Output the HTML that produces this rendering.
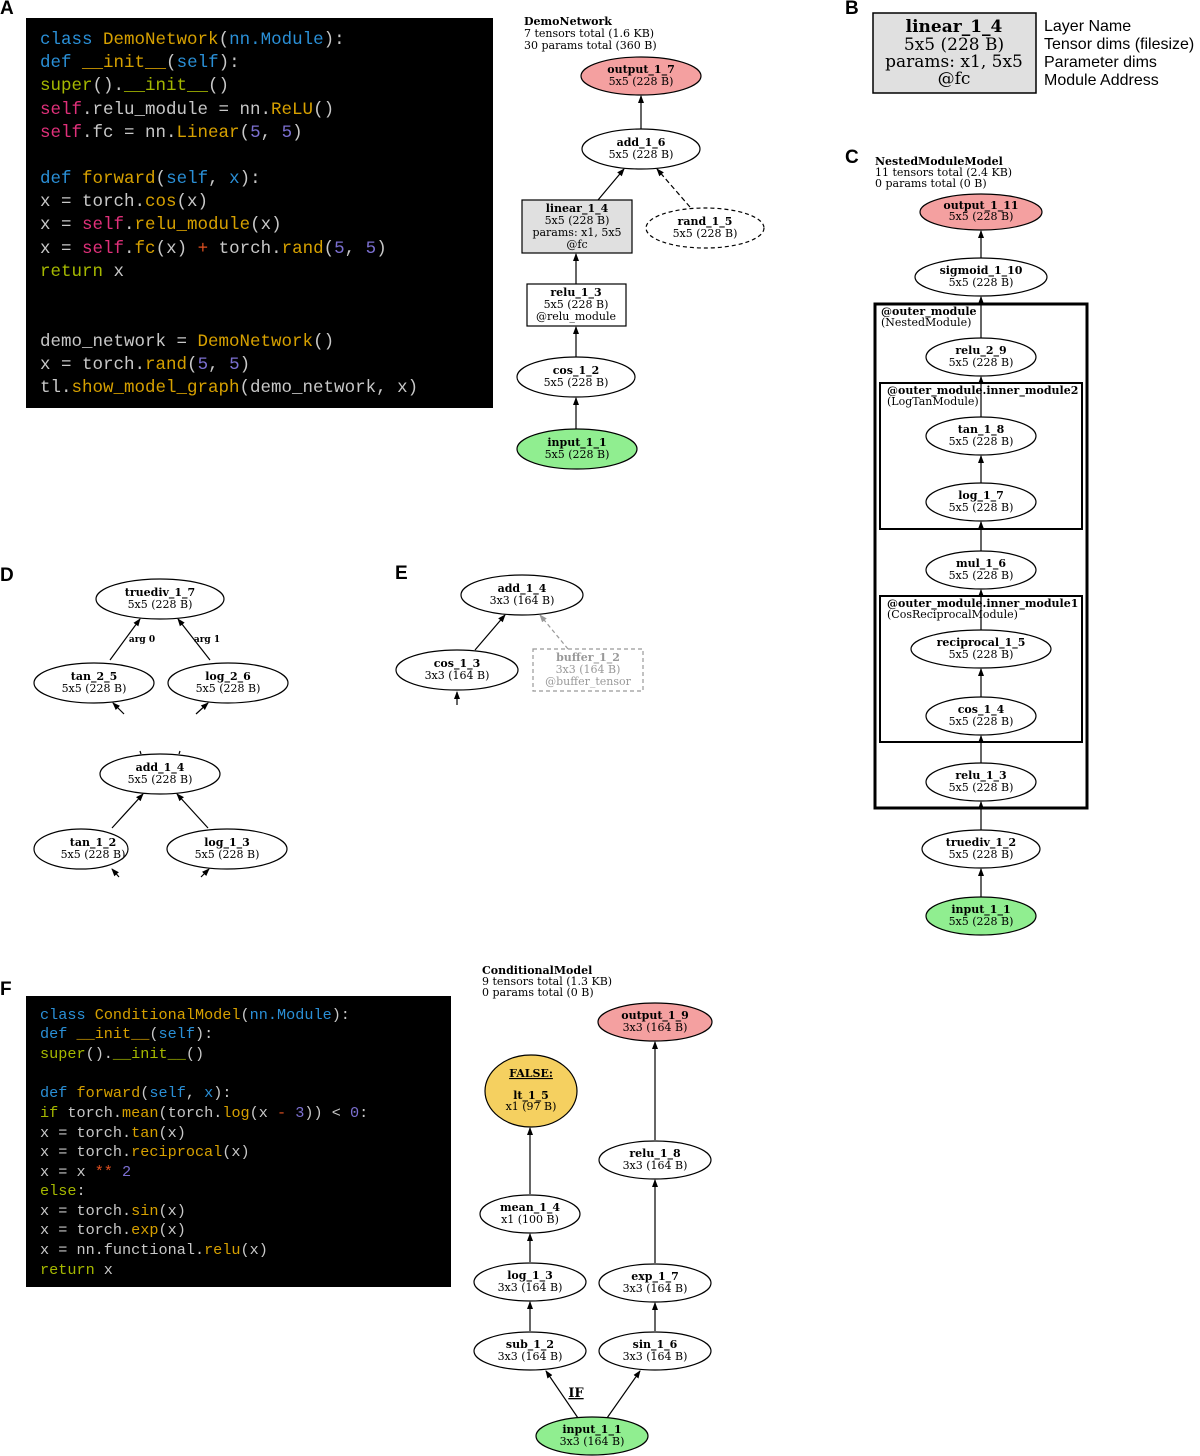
<!DOCTYPE html>
<html><head><meta charset="utf-8"><style>
html,body{margin:0;padding:0;background:#fff;}
svg{display:block}
.m{font-family:"Liberation Mono","DejaVu Sans Mono",monospace;}
.s{font-family:"DejaVu Serif","Liberation Serif",serif;font-size:11px;}
.b{font-weight:bold;}
.L{font-family:"Liberation Sans",sans-serif;font-weight:bold;font-size:19px;}
.bl{fill:#2a8fd6}.go{fill:#d6a000}.gr{fill:#a5b800}.pk{fill:#e0307a}.gy{fill:#c8c8c8}.pu{fill:#7b6fd0}.rd{fill:#e05020}
</style></head><body>
<svg width="1200" height="1456" viewBox="0 0 1200 1456" xmlns="http://www.w3.org/2000/svg">
<defs>
<marker id="ar" markerWidth="8" markerHeight="8" refX="7" refY="4" orient="auto" markerUnits="userSpaceOnUse"><path d="M0,1 L8,4 L0,7z" fill="#000"/></marker>
<marker id="ag" markerWidth="8" markerHeight="8" refX="7" refY="4" orient="auto" markerUnits="userSpaceOnUse"><path d="M0,1 L8,4 L0,7z" fill="#999"/></marker>
</defs>
<text class="L" x="0" y="14">A</text>
<text class="L" x="845" y="14">B</text>
<text class="L" x="845" y="163">C</text>
<text class="L" x="0" y="581">D</text>
<text class="L" x="395" y="579">E</text>
<text class="L" x="0" y="995">F</text>

<!-- Code A -->
<rect x="26" y="18" width="467" height="390" fill="#000"/>
<g class="m" font-size="17.5" fill="#c8c8c8" xml:space="preserve">
<text x="40" y="44"><tspan class="bl">class</tspan> <tspan class="go">DemoNetwork</tspan>(<tspan class="bl">nn.Module</tspan>):</text>
<text x="40" y="67">    <tspan class="bl">def</tspan> <tspan class="go">__init__</tspan>(<tspan class="bl">self</tspan>):</text>
<text x="40" y="90">        <tspan class="gr">super</tspan>().<tspan class="gr">__init__</tspan>()</text>
<text x="40" y="114">        <tspan class="pk">self</tspan>.relu_module = nn.<tspan class="go">ReLU</tspan>()</text>
<text x="40" y="137">        <tspan class="pk">self</tspan>.fc = nn.<tspan class="go">Linear</tspan>(<tspan class="pu">5</tspan>, <tspan class="pu">5</tspan>)</text>
<text x="40" y="183">    <tspan class="bl">def</tspan> <tspan class="go">forward</tspan>(<tspan class="bl">self</tspan>, <tspan class="bl">x</tspan>):</text>
<text x="40" y="206">        x = torch.<tspan class="go">cos</tspan>(x)</text>
<text x="40" y="229">        x = <tspan class="pk">self</tspan>.<tspan class="go">relu_module</tspan>(x)</text>
<text x="40" y="253">        x = <tspan class="pk">self</tspan>.<tspan class="go">fc</tspan>(x) <tspan class="rd">+</tspan> torch.<tspan class="go">rand</tspan>(<tspan class="pu">5</tspan>, <tspan class="pu">5</tspan>)</text>
<text x="40" y="276">        <tspan class="gr">return</tspan> x</text>
<text x="40" y="346">demo_network = <tspan class="go">DemoNetwork</tspan>()</text>
<text x="40" y="369">x = torch.<tspan class="go">rand</tspan>(<tspan class="pu">5</tspan>, <tspan class="pu">5</tspan>)</text>
<text x="40" y="392">tl.<tspan class="go">show_model_graph</tspan>(demo_network, x)</text>
</g>

<!-- Code F -->
<rect x="26" y="996" width="425" height="291" fill="#000"/>
<g class="m" font-size="15.2" fill="#c8c8c8" xml:space="preserve">
<text x="40" y="1019"><tspan class="bl">class</tspan> <tspan class="go">ConditionalModel</tspan>(<tspan class="bl">nn.Module</tspan>):</text>
<text x="40" y="1038">    <tspan class="bl">def</tspan> <tspan class="go">__init__</tspan>(<tspan class="bl">self</tspan>):</text>
<text x="40" y="1058">        <tspan class="gr">super</tspan>().<tspan class="gr">__init__</tspan>()</text>
<text x="40" y="1097">    <tspan class="bl">def</tspan> <tspan class="go">forward</tspan>(<tspan class="bl">self</tspan>, <tspan class="bl">x</tspan>):</text>
<text x="40" y="1117">        <tspan class="gr">if</tspan> torch.<tspan class="go">mean</tspan>(torch.<tspan class="go">log</tspan>(x <tspan class="rd">-</tspan> <tspan class="pu">3</tspan>)) &lt; <tspan class="pu">0</tspan>:</text>
<text x="40" y="1137">            x = torch.<tspan class="go">tan</tspan>(x)</text>
<text x="40" y="1156">            x = torch.<tspan class="go">reciprocal</tspan>(x)</text>
<text x="40" y="1176">            x = x <tspan class="rd">**</tspan> <tspan class="pu">2</tspan></text>
<text x="40" y="1195">        <tspan class="gr">else</tspan>:</text>
<text x="40" y="1215">            x = torch.<tspan class="go">sin</tspan>(x)</text>
<text x="40" y="1234">            x = torch.<tspan class="go">exp</tspan>(x)</text>
<text x="40" y="1254">            x = nn.functional.<tspan class="go">relu</tspan>(x)</text>
<text x="40" y="1274">        <tspan class="gr">return</tspan> x</text>
</g>

<g class="s" text-anchor="middle" stroke-width="1.2">
<!-- Panel A graph -->
<text class="b" x="524" y="25" text-anchor="start">DemoNetwork</text>
<text x="524" y="37" text-anchor="start">7 tensors total (1.6 KB)</text>
<text x="524" y="49" text-anchor="start">30 params total (360 B)</text>
<ellipse cx="641" cy="76" rx="60" ry="19" fill="#f4a0a0" stroke="#000"/>
<text class="b" x="641" y="73">output_1_7</text><text x="641" y="85">5x5 (228 B)</text>
<ellipse cx="641" cy="149" rx="59" ry="20" fill="#fff" stroke="#000"/>
<text class="b" x="641" y="146">add_1_6</text><text x="641" y="158">5x5 (228 B)</text>
<rect x="522" y="200" width="110" height="53" fill="#e0e0e0" stroke="#000"/>
<text class="b" x="577" y="212">linear_1_4</text><text x="577" y="224">5x5 (228 B)</text><text x="577" y="236">params: x1, 5x5</text><text x="577" y="248">@fc</text>
<ellipse cx="705" cy="228" rx="59" ry="20" fill="#fff" stroke="#000" stroke-dasharray="4,3"/>
<text class="b" x="705" y="225">rand_1_5</text><text x="705" y="237">5x5 (228 B)</text>
<rect x="527" y="284" width="99" height="42" fill="#fff" stroke="#000"/>
<text class="b" x="576" y="296">relu_1_3</text><text x="576" y="308">5x5 (228 B)</text><text x="576" y="320">@relu_module</text>
<ellipse cx="576" cy="377" rx="59" ry="20" fill="#fff" stroke="#000"/>
<text class="b" x="576" y="374">cos_1_2</text><text x="576" y="386">5x5 (228 B)</text>
<ellipse cx="577" cy="449" rx="60" ry="20" fill="#90ee90" stroke="#000"/>
<text class="b" x="577" y="446">input_1_1</text><text x="577" y="458">5x5 (228 B)</text>
<g stroke="#000" fill="none" marker-end="url(#ar)">
<line x1="576" y1="429" x2="576" y2="398"/>
<line x1="576" y1="357" x2="576" y2="327"/>
<line x1="576" y1="284" x2="576" y2="254"/>
<line x1="598" y1="200" x2="624" y2="169"/>
<line x1="690" y1="207" x2="657" y2="169" stroke-dasharray="5,3"/>
<line x1="641" y1="129" x2="641" y2="96"/>
</g>

<!-- Panel C -->
<text class="b" x="875" y="165" text-anchor="start">NestedModuleModel</text>
<text x="875" y="176" text-anchor="start">11 tensors total (2.4 KB)</text>
<text x="875" y="187" text-anchor="start">0 params total (0 B)</text>
<rect x="875" y="304" width="212" height="504" fill="none" stroke="#000" stroke-width="3"/>
<rect x="880" y="383" width="202" height="146" fill="none" stroke="#000" stroke-width="2"/>
<rect x="880" y="596" width="202" height="146" fill="none" stroke="#000" stroke-width="2"/>
<text class="b" x="881" y="315" text-anchor="start">@outer_module</text><text x="881" y="326" text-anchor="start">(NestedModule)</text>
<text class="b" x="887" y="394" text-anchor="start">@outer_module.inner_module2</text><text x="887" y="405" text-anchor="start">(LogTanModule)</text>
<text class="b" x="887" y="607" text-anchor="start">@outer_module.inner_module1</text><text x="887" y="618" text-anchor="start">(CosReciprocalModule)</text>
<g stroke="#000" fill="none" marker-end="url(#ar)">
<line x1="981" y1="897" x2="981" y2="869"/>
<line x1="981" y1="830" x2="981" y2="802"/>
<line x1="981" y1="763" x2="981" y2="736"/>
<line x1="981" y1="697" x2="981" y2="669"/>
<line x1="981" y1="630" x2="981" y2="590"/>
<line x1="981" y1="551" x2="981" y2="522"/>
<line x1="981" y1="483" x2="981" y2="456"/>
<line x1="981" y1="417" x2="981" y2="377"/>
<line x1="981" y1="338" x2="981" y2="297"/>
<line x1="981" y1="258" x2="981" y2="231"/>
</g>
<ellipse cx="981" cy="212" rx="61" ry="18" fill="#f4a0a0" stroke="#000"/>
<text class="b" x="981" y="209">output_1_11</text><text x="981" y="220">5x5 (228 B)</text>
<ellipse cx="981" cy="277" rx="66" ry="19" fill="#fff" stroke="#000"/>
<text class="b" x="981" y="274">sigmoid_1_10</text><text x="981" y="286">5x5 (228 B)</text>
<ellipse cx="981" cy="357" rx="55" ry="19" fill="#fff" stroke="#000"/>
<text class="b" x="981" y="354">relu_2_9</text><text x="981" y="366">5x5 (228 B)</text>
<ellipse cx="981" cy="436" rx="55" ry="19" fill="#fff" stroke="#000"/>
<text class="b" x="981" y="433">tan_1_8</text><text x="981" y="445">5x5 (228 B)</text>
<ellipse cx="981" cy="502" rx="55" ry="19" fill="#fff" stroke="#000"/>
<text class="b" x="981" y="499">log_1_7</text><text x="981" y="511">5x5 (228 B)</text>
<ellipse cx="981" cy="570" rx="55" ry="19" fill="#fff" stroke="#000"/>
<text class="b" x="981" y="567">mul_1_6</text><text x="981" y="579">5x5 (228 B)</text>
<ellipse cx="981" cy="649" rx="70" ry="19" fill="#fff" stroke="#000"/>
<text class="b" x="981" y="646">reciprocal_1_5</text><text x="981" y="658">5x5 (228 B)</text>
<ellipse cx="981" cy="716" rx="55" ry="19" fill="#fff" stroke="#000"/>
<text class="b" x="981" y="713">cos_1_4</text><text x="981" y="725">5x5 (228 B)</text>
<ellipse cx="981" cy="782" rx="55" ry="19" fill="#fff" stroke="#000"/>
<text class="b" x="981" y="779">relu_1_3</text><text x="981" y="791">5x5 (228 B)</text>
<ellipse cx="981" cy="849" rx="59" ry="19" fill="#fff" stroke="#000"/>
<text class="b" x="981" y="846">truediv_1_2</text><text x="981" y="858">5x5 (228 B)</text>
<ellipse cx="981" cy="916" rx="55" ry="19" fill="#90ee90" stroke="#000"/>
<text class="b" x="981" y="913">input_1_1</text><text x="981" y="925">5x5 (228 B)</text>

<!-- Panel D -->
<ellipse cx="160" cy="599" rx="64" ry="20" fill="#fff" stroke="#000"/>
<text class="b" x="160" y="596">truediv_1_7</text><text x="160" y="608">5x5 (228 B)</text>
<ellipse cx="94" cy="683" rx="60" ry="20" fill="#fff" stroke="#000"/>
<text class="b" x="94" y="680">tan_2_5</text><text x="94" y="692">5x5 (228 B)</text>
<ellipse cx="228" cy="683" rx="60" ry="20" fill="#fff" stroke="#000"/>
<text class="b" x="228" y="680">log_2_6</text><text x="228" y="692">5x5 (228 B)</text>
<text class="b" x="142" y="642" font-size="9">arg 0</text>
<text class="b" x="207" y="642" font-size="9">arg 1</text>
<ellipse cx="160" cy="774" rx="60" ry="20" fill="#fff" stroke="#000"/>
<text class="b" x="160" y="771">add_1_4</text><text x="160" y="783">5x5 (228 B)</text>
<ellipse cx="81" cy="849" rx="47" ry="20" fill="#fff" stroke="#000"/>
<text class="b" x="93" y="846">tan_1_2</text><text x="93" y="858">5x5 (228 B)</text>
<ellipse cx="227" cy="849" rx="60" ry="20" fill="#fff" stroke="#000"/>
<text class="b" x="227" y="846">log_1_3</text><text x="227" y="858">5x5 (228 B)</text>
<g stroke="#000" fill="none" marker-end="url(#ar)">
<line x1="110" y1="660" x2="140" y2="619"/>
<line x1="210" y1="660" x2="178" y2="619"/>
<line x1="124" y1="714" x2="113" y2="703"/>
<line x1="196" y1="714" x2="208" y2="703"/>
<line x1="112" y1="828" x2="143" y2="794"/>
<line x1="208" y1="828" x2="177" y2="794"/>
<line x1="119" y1="877" x2="112" y2="869"/>
<line x1="201" y1="877" x2="209" y2="869"/>
</g>
<line x1="140" y1="751" x2="141" y2="754" stroke="#000"/><line x1="180" y1="751" x2="179" y2="754" stroke="#000"/>

<!-- Panel E -->
<ellipse cx="522" cy="595" rx="61" ry="20" fill="#fff" stroke="#000"/>
<text class="b" x="522" y="592">add_1_4</text><text x="522" y="604">3x3 (164 B)</text>
<ellipse cx="457" cy="670" rx="61" ry="20" fill="#fff" stroke="#000"/>
<text class="b" x="457" y="667">cos_1_3</text><text x="457" y="679">3x3 (164 B)</text>
<rect x="533" y="649" width="110" height="42" fill="#fff" stroke="#999" stroke-dasharray="4,3"/>
<text class="b" x="588" y="661" fill="#999">buffer_1_2</text><text x="588" y="673" fill="#999">3x3 (164 B)</text><text x="588" y="685" fill="#999">@buffer_tensor</text>
<line x1="475" y1="650" x2="505" y2="615" stroke="#000" marker-end="url(#ar)"/>
<line x1="568" y1="649" x2="540" y2="615" stroke="#999" stroke-dasharray="4,3" marker-end="url(#ag)"/>
<line x1="457" y1="705" x2="457" y2="692" stroke="#000" marker-end="url(#ar)"/>

<!-- Panel F graph -->
<text class="b" x="482" y="974" text-anchor="start">ConditionalModel</text>
<text x="482" y="985" text-anchor="start">9 tensors total (1.3 KB)</text>
<text x="482" y="996" text-anchor="start">0 params total (0 B)</text>
<g stroke="#000" fill="none" marker-end="url(#ar)">
<line x1="530" y1="1194" x2="530" y2="1128"/>
<line x1="530" y1="1262" x2="530" y2="1234"/>
<line x1="530" y1="1331" x2="530" y2="1302"/>
<line x1="655" y1="1140" x2="655" y2="1042"/>
<line x1="655" y1="1263" x2="655" y2="1180"/>
<line x1="655" y1="1331" x2="655" y2="1303"/>
<line x1="578" y1="1418" x2="546" y2="1371"/>
<line x1="607" y1="1418" x2="640" y2="1371"/>
</g>
<ellipse cx="655" cy="1022" rx="57" ry="19" fill="#f4a0a0" stroke="#000"/>
<text class="b" x="655" y="1019">output_1_9</text><text x="655" y="1031">3x3 (164 B)</text>
<ellipse cx="531" cy="1091" rx="46" ry="36" fill="#f5d060" stroke="#000"/>
<text class="b" x="531" y="1077" text-decoration="underline">FALSE:</text>
<text class="b" x="531" y="1099">lt_1_5</text><text x="531" y="1110">x1 (97 B)</text>
<ellipse cx="530" cy="1214" rx="50" ry="19" fill="#fff" stroke="#000"/>
<text class="b" x="530" y="1211">mean_1_4</text><text x="530" y="1223">x1 (100 B)</text>
<ellipse cx="530" cy="1282" rx="56" ry="19" fill="#fff" stroke="#000"/>
<text class="b" x="530" y="1279">log_1_3</text><text x="530" y="1291">3x3 (164 B)</text>
<ellipse cx="530" cy="1351" rx="56" ry="19" fill="#fff" stroke="#000"/>
<text class="b" x="530" y="1348">sub_1_2</text><text x="530" y="1360">3x3 (164 B)</text>
<ellipse cx="655" cy="1160" rx="56" ry="19" fill="#fff" stroke="#000"/>
<text class="b" x="655" y="1157">relu_1_8</text><text x="655" y="1169">3x3 (164 B)</text>
<ellipse cx="655" cy="1283" rx="56" ry="19" fill="#fff" stroke="#000"/>
<text class="b" x="655" y="1280">exp_1_7</text><text x="655" y="1292">3x3 (164 B)</text>
<ellipse cx="655" cy="1351" rx="56" ry="19" fill="#fff" stroke="#000"/>
<text class="b" x="655" y="1348">sin_1_6</text><text x="655" y="1360">3x3 (164 B)</text>
<ellipse cx="592" cy="1436" rx="56" ry="19" fill="#90ee90" stroke="#000"/>
<text class="b" x="592" y="1433">input_1_1</text><text x="592" y="1445">3x3 (164 B)</text>
<text class="b" x="576" y="1397" font-size="13" text-decoration="underline">IF</text>
</g>

<!-- Panel B -->
<rect x="873" y="13" width="163" height="80" fill="#e0e0e0" stroke="#000" stroke-width="1.5"/>
<g font-family="DejaVu Serif, Liberation Serif, serif" font-size="17" text-anchor="middle">
<text x="954" y="32" font-weight="bold">linear_1_4</text>
<text x="954" y="50">5x5 (228 B)</text>
<text x="954" y="67">params: x1, 5x5</text>
<text x="954" y="84">@fc</text>
</g>
<g font-family="Liberation Sans, sans-serif" font-size="16">
<text x="1044" y="31">Layer Name</text>
<text x="1044" y="49">Tensor dims (filesize)</text>
<text x="1044" y="67">Parameter dims</text>
<text x="1044" y="85">Module Address</text>
</g>
</svg>
</body></html>
